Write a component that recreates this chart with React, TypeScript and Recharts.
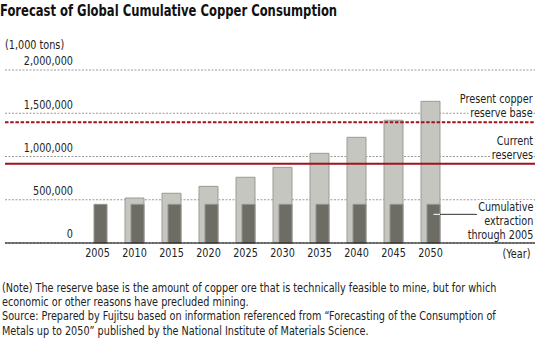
import React from 'react';
import { BarChart, Bar, XAxis, YAxis, CartesianGrid, ReferenceLine } from 'recharts';

const years = ['2005', '2010', '2015', '2020', '2025', '2030', '2035', '2040', '2045', '2050'];
// cumulative consumption from 2005 on (1,000 tons); 2005 shows only the extraction bar
const cumulativeConsumption = [null, 520000, 575000, 655000, 760000, 875000, 1037000, 1222000, 1419000, 1638000];
const extractionThrough2005 = [447000, 447000, 447000, 447000, 447000, 447000, 447000, 447000, 447000, 447000];
const reserveBase = 1395000;
const currentReserves = 917000;
const yTicks = [0, 500000, 1000000, 1500000, 2000000];

const data = years.map((year, i) => ({
  year,
  consumption: cumulativeConsumption[i],
  extraction: extractionThrough2005[i],
}));

const FONT = '"DejaVu Sans Condensed", "DejaVu Sans", sans-serif';
const FS = 12.5;
const SX = 0.86; // squeeze to mimic the narrow face of the original
const RED = '#a3111f';
const TEXT = '#222';

const YTick = (props: any) => {
  const { y, payload } = props;
  return (
    <g transform={`translate(73,${y - 9})`}>
      <text transform={`scale(${SX},1)`} dy="0.35em" textAnchor="end" fontSize={FS} fontFamily={FONT} fill={TEXT}>
        {payload.value.toLocaleString('en-US')}
      </text>
    </g>
  );
};

const XTick = (props: any) => {
  const { x, y, payload } = props;
  return (
    <g transform={`translate(${x},${y})`}>
      <text transform={`scale(${SX},1)`} dy="0.71em" textAnchor="middle" fontSize={FS} fontFamily={FONT} fill={TEXT}>
        {payload.value}
      </text>
    </g>
  );
};

const LeaderLine = (props: any) => {
  const { x, y, width, index } = props;
  if (index !== years.length - 1) return null;
  const ly = y + 10;
  return (
    <g>
      <line x1={x + width / 2} x2={x + width} y1={ly} y2={ly} stroke="#fff" strokeWidth={1} />
      <line x1={x + width} x2={x + width + 37} y1={ly} y2={ly} stroke="#333" strokeWidth={1} />
    </g>
  );
};

const squeeze = (origin: string, sx = SX): React.CSSProperties => ({
  transform: `scaleX(${sx})`,
  transformOrigin: origin,
  whiteSpace: 'nowrap',
});

const Note = ({ top, lines }: { top: number; lines: string[] }) => (
  <div
    style={{
      position: 'absolute',
      right: 2,
      top,
      display: 'flex',
      flexDirection: 'column',
      alignItems: 'flex-end',
      fontSize: FS,
      lineHeight: '14px',
      ...squeeze('right center'),
    }}
  >
    {lines.map((l) => (
      <span key={l} style={{ background: '#fff', paddingLeft: 2 }}>
        {l}
      </span>
    ))}
  </div>
);

export default function App() {
  return (
    <div
      style={{
        position: 'absolute',
        left: 0,
        top: 0,
        width: 535,
        height: 352,
        overflow: 'hidden',
        fontFamily: FONT,
        background: '#fff',
        color: TEXT,
      }}
    >
      <BarChart width={535} height={352} data={data} margin={{ top: 70, right: 0, left: 4, bottom: 84 }} barGap={-13}>
        <CartesianGrid vertical={false} stroke="#999" strokeDasharray="2 1.5" />
        <XAxis
          dataKey="year"
          height={25}
          padding={{ left: 74, right: 86 }}
          axisLine={{ stroke: '#000', strokeWidth: 1 }}
          tickLine={false}
          tickSize={3}
          tickMargin={2}
          tick={<XTick />}
          interval={0}
        />
        <YAxis width={1} domain={[0, 2000000]} ticks={yTicks} axisLine={false} tickLine={false} tick={<YTick />} />
        <ReferenceLine y={reserveBase} stroke={RED} strokeWidth={2} strokeDasharray="3.5 1.7" />
        <ReferenceLine y={currentReserves} stroke={RED} strokeWidth={2} />
        <Bar dataKey="consumption" barSize={19} fill="#c6c6c0" stroke="#9b9b95" strokeWidth={1} isAnimationActive={false} />
        <Bar
          dataKey="extraction"
          barSize={13}
          fill="#6e6d65"
          stroke="#94938c"
          strokeWidth={1}
          isAnimationActive={false}
          label={<LeaderLine />}
        />
      </BarChart>

      <div
        style={{
          position: 'absolute',
          left: 0,
          top: 2,
          fontSize: 16,
          fontWeight: 'bold',
          lineHeight: '18px',
          color: '#111',
          ...squeeze('left center', 0.805),
        }}
      >
        Forecast of Global Cumulative Copper Consumption
      </div>
      <div style={{ position: 'absolute', left: 5, top: 38, fontSize: FS, lineHeight: '14px', ...squeeze('left center') }}>
        (1,000 tons)
      </div>
      <div style={{ position: 'absolute', right: 5, top: 247, fontSize: FS, lineHeight: '14px', ...squeeze('right center') }}>
        (Year)
      </div>

      <Note top={92} lines={['Present copper', 'reserve base']} />
      <Note top={134} lines={['Current', 'reserves']} />
      <Note top={200} lines={['Cumulative', 'extraction', 'through 2005']} />

      <div style={{ position: 'absolute', left: 2, top: 281, fontSize: FS, lineHeight: '14.2px', ...squeeze('left top') }}>
        (Note) The reserve base is the amount of copper ore that is technically feasible to mine, but for which
        <br />
        economic or other reasons have precluded mining.
        <br />
        Source: Prepared by Fujitsu based on information referenced from “Forecasting of the Consumption of
        <br />
        Metals up to 2050” published by the National Institute of Materials Science.
      </div>
    </div>
  );
}
